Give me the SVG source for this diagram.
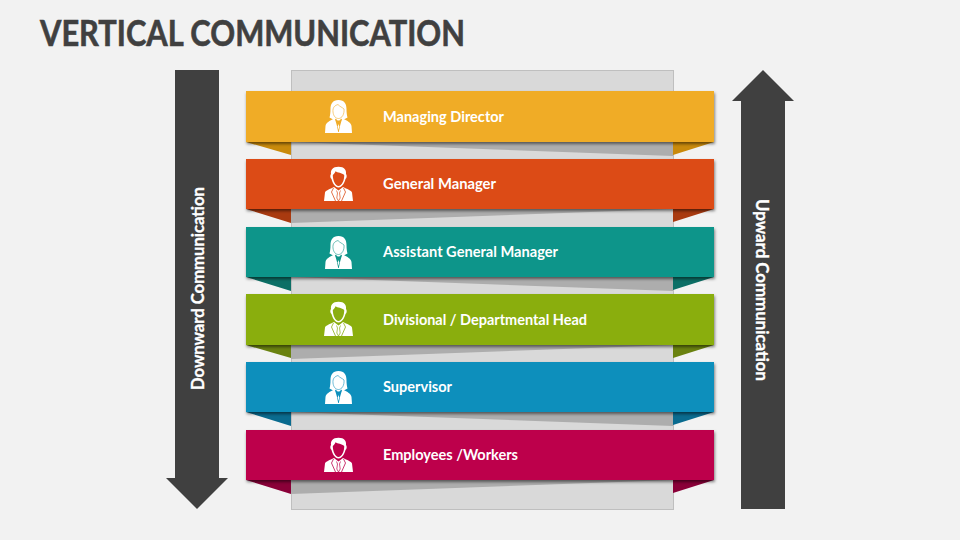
<svg xmlns="http://www.w3.org/2000/svg" xmlns:xlink="http://www.w3.org/1999/xlink" width="960" height="540" viewBox="0 0 960 540">
<style>
text{font-family:"Lato","Open Sans","Liberation Sans",sans-serif;font-weight:700}
.lbl{font-size:15.4px;fill:#fff}
.arr{fill:#404040}
.alb{font-size:16.6px;fill:#fff;text-anchor:middle;stroke:#fff;stroke-width:0.35px}
.ttl{font-size:35.5px;fill:#404040;stroke:#404040;stroke-width:0.6px}
.gw{fill:#adadad}
</style>
<defs>
<filter id="sh" x="-5%" y="-20%" width="110%" height="150%">
<feDropShadow dx="0.8" dy="2" stdDeviation="1.6" flood-color="#000" flood-opacity="0.5"/>
</filter>
<g id="woman">
<path fill="#fff" d="M338.500 9C332.500 9 330.500 13 330.500 18C330.500 22 330 24.500 329.500 26.500L335 29.500L342 29.500L347.500 26.500C347 24.500 346.500 22 346.500 18C346.500 13 344.500 9 338.500 9Z"/>
<path fill="none" stroke="currentColor" stroke-width="0.6" d="M333 21C332.500 16 335 14.500 338 13.500C339.500 15.500 342.500 16.500 344 18C344.500 23 342 27.500 338.500 27.500C335.500 27.500 333.500 25 333 21Z"/>
<path fill="#fff" d="M325 42L325.500 35C326 31.500 329.500 30 334 27.500L338.500 33L343 27.500C347.500 30 351 31.500 351.500 35L352 42Z"/>
<path fill="currentColor" d="M335 28L336 27.800L338.500 31L341 27.800L342 28L340 35L338.800 41L338.200 41L337 35Z"/>
<path fill="#fff" d="M338.500 33L339.300 35.500L338.500 39L337.700 35.500Z"/>
</g>
<g id="man">
<path fill="#fff" d="M338.500 7.700C332.500 7.700 330.500 11 331 15C330 16 330 19 331.500 20C332.500 24 335 28.500 338.500 28.500C342 28.500 344.500 24 345.500 20C347 19 347 16 346 15C346.500 11 344.500 7.700 338.500 7.700Z"/>
<path fill="currentColor" d="M332.800 16C334.500 14.800 335 13.500 335.500 12.300C337.500 13.800 342 13.800 344.200 16C344.500 21.500 341.500 27 338.500 27C335.500 27 332.800 21.500 332.800 16Z"/>
<path fill="#fff" d="M324 42L325 33.500C325.500 31.500 330 30 334 28L338.500 31.500L343 28C347 30 351.500 31.500 352 33.500L353 42Z"/>
<path fill="none" stroke="currentColor" stroke-width="0.8" d="M333.500 29L331.500 33L335.500 42M343.500 29L345.500 33L341.500 42"/>
<path fill="none" stroke="currentColor" stroke-width="0.7" d="M336.500 31.500L337.500 34L336.800 39L338.500 42L340.200 39L339.500 34L340.500 31.500"/>
</g>
</defs>
<rect width="960" height="540" fill="#f2f2f2"/>
<text class="ttl" x="40" y="46" textLength="425" lengthAdjust="spacingAndGlyphs">VERTICAL COMMUNICATION</text>
<g id="panel"><rect x="291.500" y="70.500" width="382" height="439" fill="#d9d9d9" stroke="#bfbfbf" stroke-width="1"/></g>
<g id="connectors">
<path id="arrow-down" class="arr" d="M175 70H219V478H228L197 509L166 478H175Z"/>
<path id="arrow-up" class="arr" d="M741 509H785V101H794L763 70L732 101H741Z"/>
</g>
<text class="alb" transform="translate(203.500 288.500) rotate(-90)" textLength="203" lengthAdjust="spacingAndGlyphs">Downward Communication</text>
<text class="alb" transform="translate(755.500 290) rotate(90)" textLength="182" lengthAdjust="spacingAndGlyphs">Upward Communication</text>
<g id="wedges">
<path class="gw" d="M291 142H673V156Z"/>
<path class="gw" d="M291 223V209H673Z"/>
<path class="gw" d="M291 277H673V291Z"/>
<path class="gw" d="M291 359V345H673Z"/>
<path class="gw" d="M291 412H673V426Z"/>
<path class="gw" d="M291 494V480H673Z"/>
</g>
<g id="folds">
<path fill="#c98a0c" d="M246 142H291V155ZM714 142H673V155Z"/>
<path fill="#a93a10" d="M246 209H291V223ZM714 209H673V222Z"/>
<path fill="#0c6f66" d="M246 277H291V291ZM714 277H673V290Z"/>
<path fill="#6a8210" d="M246 345H291V358ZM714 345H673V358Z"/>
<path fill="#0a6b8f" d="M246 412H291V426ZM714 412H673V425Z"/>
<path fill="#8a0038" d="M246 480H291V494ZM714 480H673V493Z"/>
</g>
<g id="node-1" style="color:#f0ac28"><rect x="246" y="91" width="468" height="51" fill="#f0ac28" filter="url(#sh)"/><use xlink:href="#woman" href="#woman" y="91"/><text class="lbl" x="383" y="122" textLength="121" lengthAdjust="spacingAndGlyphs">Managing Director</text></g>
<g id="node-2" style="color:#dc4c18"><rect x="246" y="159" width="468" height="50" fill="#dc4c18" filter="url(#sh)"/><use xlink:href="#man" href="#man" y="159"/><text class="lbl" x="383" y="189" textLength="113" lengthAdjust="spacingAndGlyphs">General Manager</text></g>
<g id="node-3" style="color:#10958a"><rect x="246" y="227" width="468" height="50" fill="#10958a" filter="url(#sh)"/><use xlink:href="#woman" href="#woman" y="227"/><text class="lbl" x="383" y="257" textLength="175" lengthAdjust="spacingAndGlyphs">Assistant General Manager</text></g>
<g id="node-4" style="color:#8aae10"><rect x="246" y="294" width="468" height="51" fill="#8aae10" filter="url(#sh)"/><use xlink:href="#man" href="#man" y="294"/><text class="lbl" x="383" y="325" textLength="204" lengthAdjust="spacingAndGlyphs">Divisional / Departmental Head</text></g>
<g id="node-5" style="color:#0d8fbc"><rect x="246" y="362" width="468" height="50" fill="#0d8fbc" filter="url(#sh)"/><use xlink:href="#woman" href="#woman" y="362"/><text class="lbl" x="383" y="392" textLength="69" lengthAdjust="spacingAndGlyphs">Supervisor</text></g>
<g id="node-6" style="color:#bd004b"><rect x="246" y="430" width="468" height="50" fill="#bd004b" filter="url(#sh)"/><use xlink:href="#man" href="#man" y="430"/><text class="lbl" x="383" y="460" textLength="135" lengthAdjust="spacingAndGlyphs">Employees /Workers</text></g>
</svg>
